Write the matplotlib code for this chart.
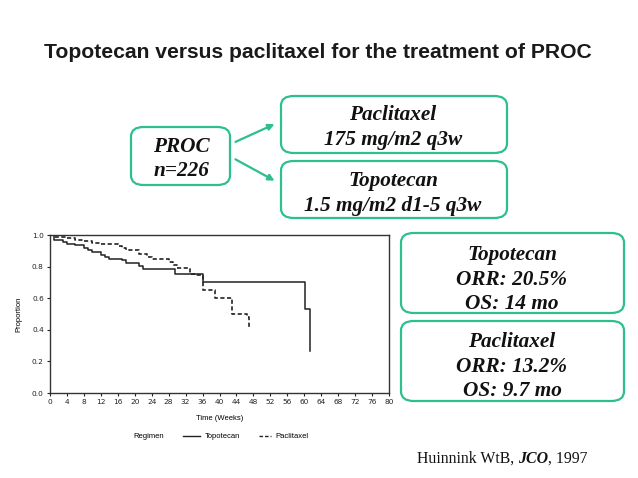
import matplotlib.pyplot as plt
from matplotlib.patches import FancyBboxPatch, FancyArrowPatch
from matplotlib.lines import Line2D

# Kaplan-Meier steps
topo_weeks = [0, 1, 3, 4, 6, 8, 9, 10, 12, 13, 14, 17, 18, 20, 21, 22, 29.5, 36, 60.2, 61.3]
topo_prop = [1.0, 0.97, 0.955, 0.945, 0.935, 0.92, 0.905, 0.89, 0.875, 0.86, 0.85, 0.84,
             0.825, 0.82, 0.805, 0.785, 0.755, 0.705, 0.53, 0.265]
pacl_weeks = [0, 1, 2, 4, 6, 8, 10, 12, 16, 17, 18, 21, 23, 24, 28, 29, 30, 33, 34.5, 36, 39, 43, 46.5, 47]
pacl_prop = [1.0, 0.99, 0.985, 0.98, 0.97, 0.96, 0.95, 0.94, 0.93, 0.92, 0.905, 0.88, 0.86,
             0.845, 0.83, 0.81, 0.79, 0.755, 0.745, 0.65, 0.60, 0.50, 0.48, 0.405]

xticks = list(range(0, 81, 4))
yticks = [0.0, 0.2, 0.4, 0.6, 0.8, 1.0]

W, H = 638, 478
fig = plt.figure(figsize=(W / 100, H / 100), dpi=100)

def fx(px):
    return px / W

def fy(py):
    return 1 - py / H

sans = 'Liberation Sans'
serif = 'Liberation Serif'
green = '#2dbf8f'

fig.text(fx(318), fy(52), 'Topotecan versus paclitaxel for the treatment of PROC',
         ha='center', va='center', fontsize=15.2, fontweight='bold', family=sans, color='#1a1a1a')

def box(x0, y0, x1, y1):
    p = FancyBboxPatch((fx(x0), fy(y1)), fx(x1) - fx(x0), fy(y0) - fy(y1),
                       boxstyle='round,pad=0,rounding_size=0.02', transform=fig.transFigure,
                       facecolor='white', edgecolor=green, linewidth=1.6)
    fig.patches.append(p)

box(131, 127, 230, 185)
box(281, 96, 507, 153)
box(281, 161, 507, 218)
box(401, 233, 624, 313)
box(401, 321, 624, 401)

btxt = dict(ha='center', va='center', fontsize=15.3, fontweight='bold', fontstyle='italic',
            family=serif, color='#111111')
fig.text(fx(181), fy(147), 'PROC', **btxt)
fig.text(fx(181), fy(171), 'n=226', **btxt)
fig.text(fx(393), fy(115), 'Paclitaxel', **btxt)
fig.text(fx(393), fy(140), '175 mg/m2 q3w', **btxt)
fig.text(fx(393), fy(181), 'Topotecan', **btxt)
fig.text(fx(393), fy(206), '1.5 mg/m2 d1-5 q3w', **btxt)
fig.text(fx(512), fy(255), 'Topotecan', **btxt)
fig.text(fx(512), fy(280), 'ORR: 20.5%', **btxt)
fig.text(fx(512), fy(304), 'OS: 14 mo', **btxt)
fig.text(fx(512), fy(342), 'Paclitaxel', **btxt)
fig.text(fx(512), fy(367), 'ORR: 13.2%', **btxt)
fig.text(fx(512), fy(391), 'OS: 9.7 mo', **btxt)

arr = dict(arrowstyle='-|>', color=green, lw=1.6, mutation_scale=9)
fig.patches.append(FancyArrowPatch((fx(233), fy(143)), (fx(277), fy(123)),
                                   transform=fig.transFigure, **arr))
fig.patches.append(FancyArrowPatch((fx(233), fy(158)), (fx(277), fy(182)),
                                   transform=fig.transFigure, **arr))

# citation, pieces chained one after another
ax0 = fig.add_axes([0, 0, 1, 1], frameon=False)
ax0.set_axis_off()
cite = dict(fontsize=11.4, family=serif, va='bottom', ha='left', color='#111111')
t1 = fig.text(fx(417), fy(467), 'Huinnink WtB, ', **cite)
a1 = ax0.annotate('JCO', xy=(1, 0), xycoords=t1, fontweight='bold', fontstyle='italic', **cite)
ax0.annotate(', 1997', xy=(1, 0), xycoords=a1, **cite)

# KM plot
ax = fig.add_axes([fx(50), fy(393), fx(389) - fx(50), fy(235) - fy(393)])
ax.step(topo_weeks, topo_prop, where='post', color='#222222', lw=1.1)
ax.step(pacl_weeks, pacl_prop, where='post', color='#222222', lw=1.2, linestyle=(0, (2.5, 1.5)))
ax.set_xlim(0, 80)
ax.set_ylim(0, 1.0)
ax.set_xticks(xticks)
ax.set_yticks(yticks)
ax.set_yticklabels(['%.1f' % v for v in yticks])
ax.tick_params(labelsize=5.3, length=2, width=0.8, pad=2.5, colors='#222222')
for s in ax.spines.values():
    s.set_linewidth(1.0)
    s.set_color('#333333')
ax.set_xlabel('Time (Weeks)', fontsize=5.5, family=sans, labelpad=7)
ax.set_ylabel('Proportion', fontsize=5.5, family=sans, labelpad=7)

fig.text(fx(133), fy(436), 'Regimen', ha='left', va='center', fontsize=5.5, family=sans)
fig.lines.append(Line2D([fx(183), fx(200)], [fy(436), fy(436)], transform=fig.transFigure,
                        color='#222222', lw=1.0))
fig.text(fx(205), fy(436), 'Topotecan', ha='left', va='center', fontsize=5.5, family=sans)
fig.lines.append(Line2D([fx(259), fx(271)], [fy(436), fy(436)], transform=fig.transFigure,
                        color='#222222', lw=1.0, linestyle=(0, (2.5, 1.5))))
fig.text(fx(275), fy(436), 'Paclitaxel', ha='left', va='center', fontsize=5.5, family=sans)

fig.savefig('out.png', dpi=100)
